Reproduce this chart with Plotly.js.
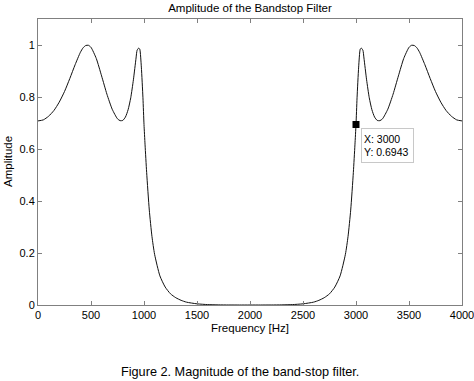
<!DOCTYPE html>
<html>
<head>
<meta charset="utf-8">
<script src="https://cdn.plot.ly/plotly-3.0.1.min.js"></script>
<style>
html,body{margin:0;padding:0;background:#fff;}
#chart{width:474px;height:381px;}
</style>
</head>
<body>
<div id="chart"></div>
<script>
// Frequency grid (Hz) and amplitude
var freqHz = [
  0,50,100,150,200,250,300,350,400,425,450,475,500,550,600,650,700,750,775,800,
  825,850,875,900,925,935,950,960,975,990,1000,1010,1025,1050,1075,1100,1150,1200,
  1250,1300,1350,1400,1500,1600,1700,1800,1900,2000,
  2100,2200,2300,2400,2500,2600,2650,2700,2750,2800,2850,2900,2925,2950,2975,2990,
  3000,3010,3025,3040,3050,3065,3075,3100,3125,3150,3175,3200,3225,3250,3300,3350,
  3400,3450,3500,3525,3550,3575,3600,3650,3700,3750,3800,3850,3900,3950,4000
];
var amplitude = [
  0.708,0.712,0.726,0.748,0.780,0.821,0.871,0.924,0.972,0.989,0.998,0.999,0.991,0.948,0.881,0.811,0.753,0.716,0.709,0.710,
  0.723,0.751,0.797,0.866,0.950,0.980,0.988,0.984,0.915,0.797,0.6943,0.616,0.510,0.365,0.264,0.195,0.112,0.069,
  0.043,0.028,0.018,0.011,0.0045,0.0016,0.0005,0.0001,0.00001,0,
  0.00001,0.0001,0.0005,0.0016,0.0045,0.011,0.018,0.028,0.043,0.069,0.112,0.195,0.264,0.365,0.510,0.616,
  0.6943,0.797,0.915,0.984,0.988,0.980,0.950,0.866,0.797,0.751,0.723,0.710,0.709,0.716,0.753,0.811,
  0.881,0.948,0.991,0.999,0.998,0.989,0.972,0.924,0.871,0.821,0.780,0.748,0.726,0.712,0.708
];
// Data tip
var tipX = [3000];
var tipY = [0.6943];
var tipLabel = "X: 3000<br>Y: 0.6943";

var xTicks = [0,500,1000,1500,2000,2500,3000,3500,4000];
var xTickText = ["0","500","1000","1500","2000","2500","3000","3500","4000"];
var yTicks = [0,0.2,0.4,0.6,0.8,1];
var yTickText = ["0","0.2","0.4","0.6","0.8","1"];

var titleText = "Amplitude of the Bandstop Filter";
var xTitle = "Frequency [Hz]";
var yTitle = "Amplitude";
var caption = "Figure 2. Magnitude of the band-stop filter.";

var FONT = "'Liberation Sans', Arial, Helvetica, sans-serif";

var traces = [
  {x: freqHz, y: amplitude, type: 'scatter', mode: 'lines',
   line: {color: '#111', width: 1, shape: 'spline', smoothing: 0.6},
   hoverinfo: 'skip', showlegend: false, cliponaxis: false},
  {x: tipX, y: tipY, type: 'scatter', mode: 'markers',
   marker: {symbol: 'square', size: 7, color: '#000'},
   hoverinfo: 'skip', showlegend: false}
];

var axisCommon = {
  showgrid: false, zeroline: false, showline: true, mirror: 'ticks',
  linecolor: '#808080', linewidth: 1, ticks: 'inside', ticklen: 4,
  tickcolor: '#808080', tickwidth: 1, ticklabeloverflow: 'allow',
  tickfont: {family: FONT, size: 11, color: '#000'}
};

var layout = {
  width: 474, height: 381,
  margin: {l: 38, r: 12, t: 19, b: 76, pad: 0},
  paper_bgcolor: '#fff', plot_bgcolor: '#fff',
  title: {text: titleText, font: {family: FONT, size: 11.5, color: '#000'},
          x: 0.5, xref: 'paper', y: 1 - 8/381, yref: 'container', yanchor: 'middle'},
  xaxis: Object.assign({}, axisCommon, {range: [0, 4000.0001], tickvals: xTicks, ticktext: xTickText, autorange: false}),
  yaxis: Object.assign({}, axisCommon, {range: [0, 1.1], tickvals: yTicks, ticktext: yTickText, autorange: false}),
  annotations: [
    {text: xTitle, xref: 'paper', yref: 'paper', x: 0.5, y: (305-328)/286,
     xanchor: 'center', yanchor: 'middle', showarrow: false,
     font: {family: FONT, size: 11.5, color: '#000'}},
    {text: yTitle, xref: 'paper', yref: 'paper', x: (8-38)/424, y: 0.5,
     xanchor: 'center', yanchor: 'middle', textangle: -90, showarrow: false,
     font: {family: FONT, size: 11.5, color: '#000'}},
    {text: caption, xref: 'paper', yref: 'paper', x: (239.5-38)/424, y: (305-372)/286,
     xanchor: 'center', yanchor: 'middle', showarrow: false,
     font: {family: FONT, size: 12.7, color: '#000'}},
    {text: tipLabel, xref: 'paper', yref: 'paper', x: (361-38)/424, y: (305-128)/286,
     xanchor: 'left', yanchor: 'top', showarrow: false, align: 'left',
     width: 47, height: 29, borderpad: 2,
     bgcolor: '#fff', bordercolor: '#c8c8c8', borderwidth: 1,
     font: {family: FONT, size: 10.5, color: '#000'}}
  ]
};

Plotly.newPlot('chart', traces, layout, {displayModeBar: false, staticPlot: true});
</script>
</body>
</html>
